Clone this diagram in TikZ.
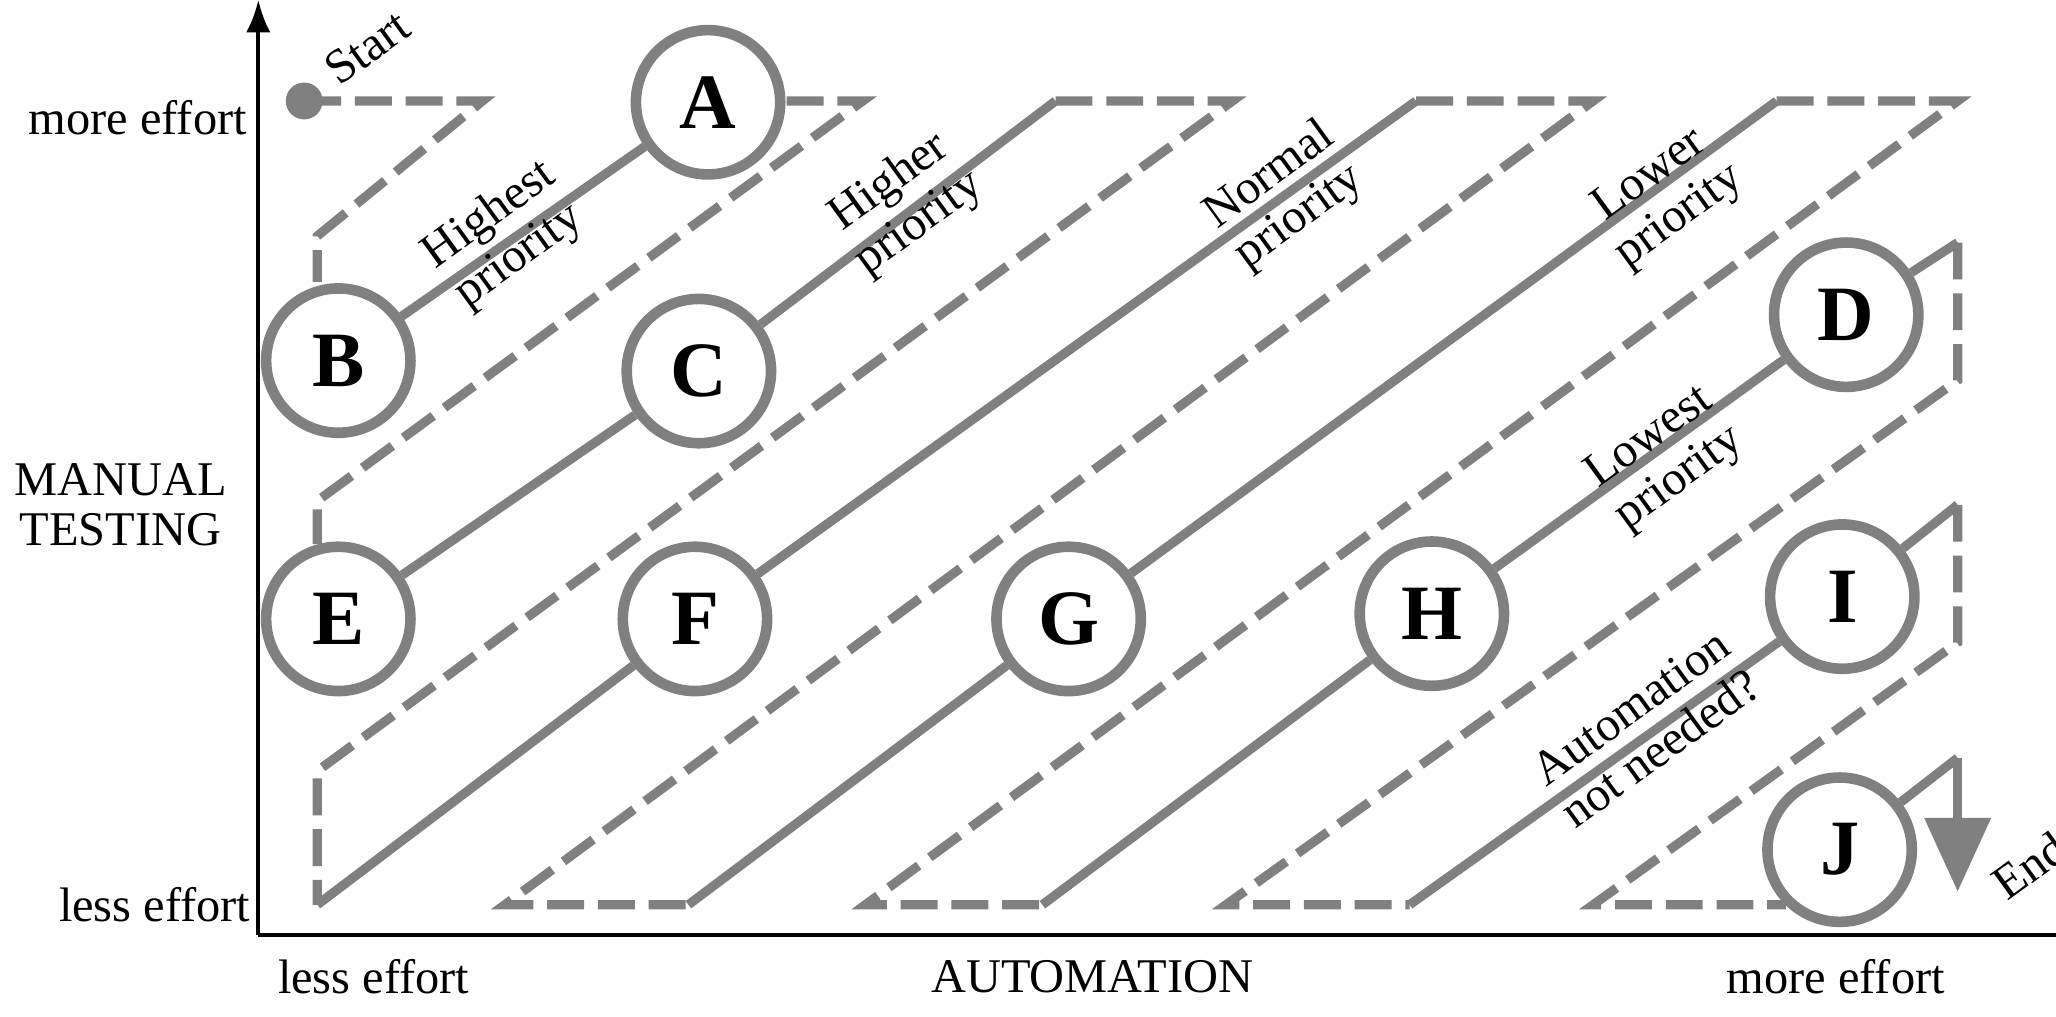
\documentclass[tikz,border=0pt]{standalone}
\usepackage{fontspec}
\setmainfont{Liberation Serif}
\usetikzlibrary{positioning,arrows.meta}
\definecolor{pathgray}{RGB}{128,128,128}
\tikzstyle{stage} = [circle, draw=pathgray, line width=2.3pt, minimum size=1.1cm, inner sep=0pt, font=\fontsize{17}{17}\selectfont\bfseries]
\tikzstyle{solid path} = [draw=pathgray, line width=2pt]
\tikzstyle{dash path} = [draw=pathgray, line width=2pt, dash pattern=on 8pt off 3pt]
\tikzstyle{tag} = [font=\fontsize{10.5}{11}\selectfont, align=center, rotate=36]
\tikzstyle{axislabel} = [font=\fontsize{10.5}{11}\selectfont, align=center]

\begin{document}
\begin{tikzpicture}[x=0.01cm, y=-0.01cm]
\useasboundingbox (0,0) rectangle (1568,775);
%% axes
\draw[-{Latex[length=7pt]}, thick] (197,713) -- (197,0);
\draw[thick] (197,713) -- (1568,713);
\node[axislabel] at (105,90) (ymore) {more effort};
\node[axislabel] at (118,690) (yless) {less effort};
\node[axislabel] at (92,385) (manual) {MANUAL\\TESTING};
\node[axislabel] at (285,745) (xless) {less effort};
\node[axislabel] at (833,745) (auto) {AUTOMATION};
\node[axislabel] at (1400,745) (xmore) {more effort};

%% stages
\node[stage] at (540,78) (A) {A};
\node[stage] at (258,275) (B) {B};
\node[stage] at (533,283) (C) {C};
\node[stage] at (1408,240) (D) {D};
\node[stage] at (258,472) (E) {E};
\node[stage] at (530,472) (F) {F};
\node[stage] at (815,472) (G) {G};
\node[stage] at (1092,468) (H) {H};
\node[stage] at (1405,455) (I) {I};
\node[stage] at (1403,648) (J) {J};

%% corners
\coordinate (s0) at (232,77);
\coordinate (s1) at (368,77);
\coordinate (s2) at (242,180);
\coordinate (s3) at (242,215);
\coordinate (a0) at (600,77);
\coordinate (a1) at (658,77);
\coordinate (a2) at (242,382);
\coordinate (a3) at (242,415);
\coordinate (c1) at (805,77);
\coordinate (c2) at (940,77);
\coordinate (c3) at (242,588);
\coordinate (c4) at (242,690);
\coordinate (f1) at (1080,77);
\coordinate (f2) at (1215,77);
\coordinate (f3) at (385,690);
\coordinate (f4) at (525,690);
\coordinate (g1) at (1355,77);
\coordinate (g2) at (1493,77);
\coordinate (g3) at (660,690);
\coordinate (g4) at (795,690);
\coordinate (d1) at (1493,185);
\coordinate (d2) at (1493,290);
\coordinate (d3) at (935,690);
\coordinate (d4) at (1075,690);
\coordinate (i1) at (1493,385);
\coordinate (i2) at (1493,490);
\coordinate (i3) at (1215,690);
\coordinate (i4) at (1362,690);
\coordinate (j1) at (1493,578);
\coordinate (end) at (1493,680);

%% start
\fill[pathgray] (s0) circle (4pt);
\node[tag] at (280,36) (start) {Start};

%% route
\path[dash path] (s0) -- (s1) -- (s2) -- (s3);
\path[solid path] (B) -- (A);
\path[dash path] (a0) -- (a1) -- (a2) -- (a3);
\path[solid path] (E) -- (C) -- (c1);
\path[dash path] (c1) -- (c2) -- (c3) -- (c4);
\path[solid path] (c4) -- (F) -- (f1);
\path[dash path] (f1) -- (f2) -- (f3) -- (f4);
\path[solid path] (f4) -- (G) -- (g1);
\path[dash path] (g1) -- (g2) -- (g3) -- (g4);
\path[solid path] (g4) -- (H) -- (D) -- (d1);
\path[dash path] (d1) -- (d2) -- (d3) -- (d4);
\path[solid path] (d4) -- (I) -- (i1);
\path[dash path] (i1) -- (i2) -- (i3) -- (i4);
\path[solid path] (J) -- (j1);
\path[solid path, -{Triangle[length=16pt, width=14pt]}] (j1) -- (end);
\node[tag] at (1548,660) (endlabel) {End};

%% labels
\node[tag] at (385,180) (lhighest) {Highest\\priority};
\node[tag] at (690,155) (lhigher) {Higher\\priority};
\node[tag] at (980,150) (lnormal) {Normal\\priority};
\node[tag] at (1270,150) (llower) {Lower\\priority};
\node[tag] at (1270,350) (llowest) {Lowest\\priority};
\node[tag] at (1255,555) (lauto) {Automation\\not needed?};
\end{tikzpicture}
\end{document}
